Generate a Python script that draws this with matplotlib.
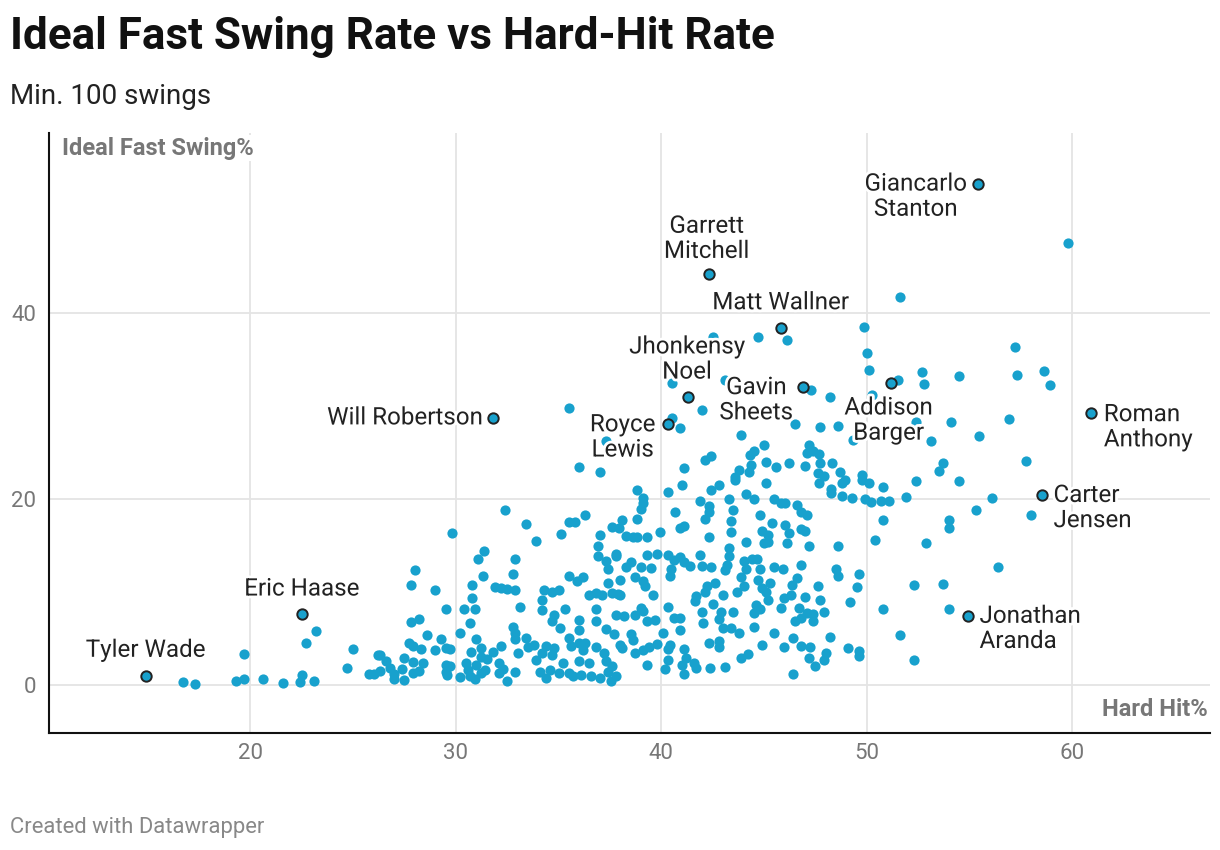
import matplotlib
matplotlib.use("Agg")
import matplotlib.pyplot as plt
import matplotlib.patheffects as pe

plt.rcParams['font.family'] = ['Roboto', 'DejaVu Sans']

# Hard Hit% (x) and Ideal Fast Swing% (y) for every hitter
hard_hit = [
    16.7, 17.3, 19.3, 19.7, 19.7, 20.6, 21.6, 22.4, 22.5, 22.7, 23.2, 23.1, 24.7, 25.0, 26.2, 25.75, 26.0, 26.3,
    32.4, 33.4, 29.8, 31.35, 31.1, 32.9, 28.0, 27.8, 29.0, 31.3, 32.8, 30.8, 31.9, 32.2, 32.5, 32.9, 30.8, 29.5,
    30.4, 30.95, 33.1, 28.2, 27.8, 30.7, 32.8, 30.2, 28.6, 29.3, 32.9, 32.9, 31.0, 27.7, 27.9, 28.3, 29.0, 29.5,
    29.7, 30.75, 31.2, 31.5, 31.8, 32.2, 33.0, 33.5, 27.5, 26.6, 26.3, 27.9, 28.4, 27.4, 26.8, 27.0, 27.0, 27.5,
    27.9, 28.2, 29.5, 29.7, 29.5, 29.55, 30.2, 30.5, 30.6, 30.7, 30.95, 31.0, 31.2, 31.4, 31.2, 32.1, 32.1, 32.3,
    32.5, 32.9, 33.4,
    38.8, 39.1, 39.1, 39.0, 40.3, 36.3, 35.5, 35.8, 38.8, 38.1, 37.95, 37.6, 37.0, 35.1, 33.9, 38.3, 38.6, 38.8,
    39.3, 39.95, 36.9, 36.9, 37.3, 37.4, 37.8, 37.8, 38.5, 38.3, 38.7, 39.0, 39.5, 39.3, 39.8, 40.3, 39.1, 39.2,
    35.5, 35.9, 36.2, 37.4, 38.0, 37.9, 37.6, 38.0, 34.3, 34.7, 35.0, 34.2, 34.2, 36.5, 36.8, 37.1, 39.6, 36.8,
    36.8, 35.3, 34.8, 34.7, 36.0, 36.0, 35.05, 37.8, 38.2, 38.7, 39.0, 39.1, 39.3, 39.7, 40.3, 37.3, 37.7, 38.5,
    38.6, 38.0, 38.1, 38.7, 39.1, 39.4, 39.8, 40.1, 33.8, 34.4, 34.8, 35.5, 35.6, 36.0, 36.3, 36.2, 36.8, 33.9,
    34.2, 34.7, 34.1, 34.4, 34.6, 35.0, 35.2, 35.5, 35.7, 36.0, 36.1, 36.5, 36.6, 37.0, 37.2, 37.3, 37.4, 37.55,
    37.6, 37.8, 39.3, 40.3, 40.2, 40.3,
    41.0, 42.4, 42.8, 43.6, 45.1, 41.9, 42.3, 42.3, 42.1, 40.65, 40.9, 41.1, 42.3, 43.3, 43.5, 43.4, 43.4, 44.1,
    44.5, 44.1, 45.5, 45.8, 46.0, 44.8, 45.4, 44.9, 45.2, 45.0, 45.2, 46.6, 46.8, 47.1, 46.0, 46.2, 46.1, 46.8,
    47.0, 47.2, 40.6, 40.9, 41.1, 41.4, 40.45, 40.4, 41.9, 42.0, 42.4, 43.3, 43.3, 43.2, 43.1, 44.0, 44.1, 43.9,
    44.4, 44.65, 44.8, 45.5, 45.9, 46.8, 44.7, 44.9, 45.1, 45.2, 45.3, 46.6, 46.35, 46.3, 45.95, 45.8, 46.98, 42.6,
    42.2, 42.1, 41.7, 41.65, 43.0, 42.5, 43.7, 44.0, 40.6, 40.9, 40.9, 42.0, 42.05, 42.9, 42.8, 43.0, 43.4, 43.5,
    43.8, 44.6, 44.5, 44.8, 44.5, 46.7, 46.5, 46.8, 47.1, 45.5, 40.4, 41.1, 41.2, 41.0, 41.1, 41.6, 41.7, 42.3,
    42.8, 42.8, 42.35, 43.1, 43.9, 44.2, 44.9, 45.95, 46.4, 46.8, 47.2, 46.4,
    47.65, 48.25, 48.25, 48.8, 48.95, 49.75, 50.1, 50.8, 52.4, 48.8, 49.3, 49.9, 50.2, 50.7, 51.1, 51.9, 50.8, 54.0,
    54.0, 48.6, 50.4, 52.9, 48.5, 48.6, 49.6, 49.5, 47.6, 47.7, 49.2, 47.4, 47.4, 47.9, 52.3, 53.7, 50.8, 54.0,
    51.6, 52.3, 48.2, 47.25, 47.5, 47.9, 48.0, 49.1, 49.6, 49.6,
    49.85, 50.0, 50.1, 51.5, 52.7, 52.8, 54.5, 47.3, 48.2, 50.25, 47.7, 48.6, 49.35, 52.4, 53.1, 54.1, 55.45, 47.2,
    47.1, 47.4, 47.65, 47.7, 48.3, 47.0, 47.6, 47.9, 48.7, 49.75, 53.7, 53.5, 54.5,
    57.2, 57.3, 58.6, 58.9, 56.9, 57.75, 56.1, 55.3, 58.0, 56.4,
    59.8, 51.6, 42.5, 44.7, 46.1, 43.1, 40.5, 35.5, 37.3, 36.0, 37.0, 40.5,
    40.9, 42.0, 46.5, 43.9, 45.0, 44.5, 44.3, 44.35, 42.4, 42.1, 45.1, 45.6, 46.2, 41.1, 43.8, 43.6, 44.25,
]
ideal_fast = [
    0.25, 0.1, 0.4, 0.65, 3.3, 0.6, 0.15, 0.3, 1.0, 4.5, 5.8, 0.4, 1.8, 3.8, 3.2, 1.1, 1.2, 1.5,
    18.8, 17.3, 16.3, 14.4, 13.5, 13.5, 12.3, 10.75, 10.2, 11.7, 11.9, 10.7, 10.5, 10.4, 10.3, 10.2, 9.3, 8.1,
    8.1, 8.1, 8.35, 7.1, 6.7, 6.6, 6.2, 5.6, 5.3, 4.9, 5.55, 4.9, 4.9, 4.5, 4.2, 3.8, 3.7, 3.9,
    3.8, 3.5, 3.9, 2.8, 3.5, 4.2, 3.4, 4.0, 2.9, 2.5, 3.15, 2.4, 2.3, 1.7, 1.8, 1.2, 0.6, 0.5,
    1.3, 1.5, 2.1, 2.0, 1.4, 1.0, 0.8, 2.3, 1.6, 0.9, 0.6, 2.15, 1.3, 1.6, 3.0, 2.3, 1.3, 1.7,
    0.4, 1.4, 5.05,
    20.9, 20.1, 19.5, 18.9, 20.7, 18.3, 17.5, 17.5, 17.8, 17.7, 16.9, 17.0, 16.1, 16.2, 15.5, 16.0, 15.9, 15.9,
    15.9, 16.4, 14.9, 13.8, 13.3, 12.4, 14.1, 13.8, 13.2, 12.7, 11.6, 12.7, 12.5, 13.9, 14.1, 14.0, 11.1, 10.6,
    11.7, 11.1, 11.6, 10.9, 11.3, 9.75, 9.85, 9.7, 10.2, 10.0, 10.2, 9.1, 8.0, 9.6, 9.9, 9.6, 9.7, 8.1,
    6.9, 8.1, 7.5, 6.8, 7.0, 5.9, 6.1, 7.5, 7.4, 7.5, 8.2, 7.9, 6.8, 7.0, 8.4, 6.0, 5.4, 5.5,
    4.8, 4.3, 3.9, 3.4, 3.7, 4.1, 4.4, 5.6, 4.3, 4.2, 3.9, 5.0, 4.2, 4.5, 4.5, 3.7, 4.05, 2.7,
    3.4, 3.2, 1.4, 0.7, 1.6, 1.25, 2.3, 1.25, 0.9, 2.5, 1.0, 2.3, 0.9, 0.7, 3.4, 2.5, 1.4, 0.4,
    2.0, 0.9, 2.15, 2.7, 1.7, 3.8,
    21.5, 20.9, 21.5, 22.0, 21.7, 19.8, 19.2, 18.6, 17.8, 18.6, 16.85, 17.1, 15.9, 20.0, 18.8, 17.6, 16.4, 20.5,
    20.0, 15.3, 20.0, 19.5, 19.5, 18.2, 17.4, 16.5, 16.1, 15.2, 15.4, 19.35, 18.6, 18.3, 17.2, 16.3, 15.2, 16.8,
    16.5, 14.9, 13.4, 13.7, 13.15, 12.8, 12.4, 11.65, 14.0, 12.8, 12.65, 14.7, 13.8, 12.9, 12.3, 13.3, 12.4, 11.6,
    13.55, 13.55, 12.4, 12.65, 12.4, 12.9, 11.3, 10.4, 10.0, 9.1, 10.9, 11.5, 10.75, 9.7, 9.3, 8.2, 9.4, 10.9,
    10.6, 10.0, 9.5, 8.95, 9.7, 8.7, 10.0, 10.65, 7.2, 7.2, 5.9, 7.8, 6.6, 7.8, 7.05, 6.1, 6.1, 7.8,
    5.55, 8.6, 7.7, 8.1, 6.2, 8.25, 6.8, 7.2, 7.7, 5.6, 4.3, 3.8, 2.9, 2.15, 1.1, 2.3, 1.8, 4.5,
    4.65, 4.1, 1.8, 1.9, 2.9, 3.3, 4.3, 4.1, 5.0, 4.2, 2.9, 1.2,
    21.7, 21.0, 20.6, 21.7, 22.0, 22.0, 21.7, 21.3, 21.9, 20.35, 20.1, 20.0, 19.6, 19.8, 19.8, 20.2, 17.7, 17.7,
    16.85, 14.95, 15.6, 15.2, 12.4, 11.65, 11.9, 10.5, 10.6, 9.1, 8.85, 7.6, 6.8, 7.8, 10.75, 10.8, 8.1, 8.1,
    5.3, 2.6, 5.1, 4.1, 2.0, 2.7, 3.4, 3.9, 3.6, 3.1,
    38.5, 35.7, 33.9, 32.8, 33.6, 32.3, 33.2, 31.7, 30.9, 31.2, 27.7, 27.8, 26.3, 28.3, 26.2, 28.3, 26.7, 25.8,
    24.9, 25.1, 24.8, 23.9, 23.9, 23.5, 22.75, 22.4, 22.9, 22.6, 23.8, 23.0, 21.9,
    36.3, 33.3, 33.7, 32.2, 28.6, 24.1, 20.1, 18.8, 18.2, 12.65,
    47.5, 41.7, 37.4, 37.4, 37.1, 32.8, 32.5, 29.75, 26.2, 23.4, 22.9, 28.7,
    27.6, 29.6, 28.0, 26.9, 25.8, 25.1, 24.7, 23.65, 24.55, 24.2, 24.0, 23.4, 23.8, 23.3, 23.1, 22.3, 22.9,
]

# highlighted hitters
names = ['Tyler Wade', 'Eric Haase', 'Will Robertson', 'Royce\nLewis', 'Jhonkensy\nNoel',
         'Garrett\nMitchell', 'Matt Wallner', 'Gavin\nSheets', 'Addison\nBarger',
         'Giancarlo\nStanton', 'Roman\nAnthony', 'Carter\nJensen', 'Jonathan\nAranda']
name_hh = [14.9, 22.5, 31.8, 40.3, 41.3, 42.3, 45.8, 46.9, 51.2, 55.4, 60.9, 58.5, 54.9]
name_ifs = [0.9, 7.6, 28.7, 28.0, 31.0, 44.2, 38.4, 32.0, 32.5, 53.9, 29.2, 20.4, 7.4]
# label placement: (dx px, dy px, ha)
placement = [(0, 26, 'center'), (0, 25, 'center'), (-10, 0, 'right'), (-12, -13, 'right'),
             (-1, 37, 'center'), (-2, 35, 'center'), (0, 25, 'center'), (-10, -13, 'right'),
             (-3, -38, 'center'), (-11, -13, 'right'), (13, -14, 'left'), (12, -13, 'left'),
             (12, -13, 'left')]

blue = '#18a1cd'
grid = '#e4e4e4'
grey = '#777777'

fig = plt.figure(figsize=(12.2, 8.5), dpi=100)
ax = fig.add_axes([49 / 1220, 117 / 850, 1161 / 1220, 600 / 850])

ax.scatter(hard_hit, ideal_fast, s=54, color=blue, linewidths=0, zorder=3)
ax.scatter(name_hh, name_ifs, s=56, color=blue, edgecolors='#222222', linewidths=1.4, zorder=4)

halo = [pe.withStroke(linewidth=4, foreground='white')]
for nm, x, y, (dx, dy, ha) in zip(names, name_hh, name_ifs, placement):
    ax.annotate(nm, (x, y), xytext=(dx, dy), textcoords='offset pixels', ha=ha, va='center',
                multialignment=ha if ha != 'right' else 'center', fontsize=17.4, color='#222222',
                linespacing=1.12, path_effects=halo, zorder=5)

ax.set_xlim(10.2, 66.7)
ax.set_ylim(-5.2, 59.35)
ax.set_xticks([20, 30, 40, 50, 60])
ax.set_yticks([0, 20, 40])
ax.grid(True, color=grid, linewidth=1.3, zorder=0)
ax.tick_params(length=0, labelsize=16, labelcolor=grey)
ax.tick_params(axis='x', pad=7)
ax.tick_params(axis='y', pad=9)
for side in ['top', 'right']:
    ax.spines[side].set_visible(False)
for side in ['left', 'bottom']:
    ax.spines[side].set_color('#111111')
    ax.spines[side].set_linewidth(1.5)

bb = dict(facecolor='white', edgecolor='none', pad=1)
ax.text(13 / 1161, 585 / 600, 'Ideal Fast Swing%', transform=ax.transAxes, fontsize=17,
        fontweight='bold', color=grey, ha='left', va='center', bbox=bb, zorder=6)
ax.text(0.998, 23 / 600, 'Hard Hit%', transform=ax.transAxes, fontsize=17,
        fontweight='bold', color=grey, ha='right', va='center', bbox=bb, zorder=6)

fig.text(10 / 1220, 1 - 37 / 850, 'Ideal Fast Swing Rate vs Hard-Hit Rate', fontsize=31.7,
         fontweight='bold', color='#111111', ha='left', va='center')
fig.text(10 / 1220, 1 - 97 / 850, 'Min. 100 swings', fontsize=20, color='#222222',
         ha='left', va='center')
fig.text(10 / 1220, 1 - 827 / 850, 'Created with Datawrapper', fontsize=15.8, color='#888888',
         ha='left', va='center')

fig.savefig('out.png', dpi=100)
